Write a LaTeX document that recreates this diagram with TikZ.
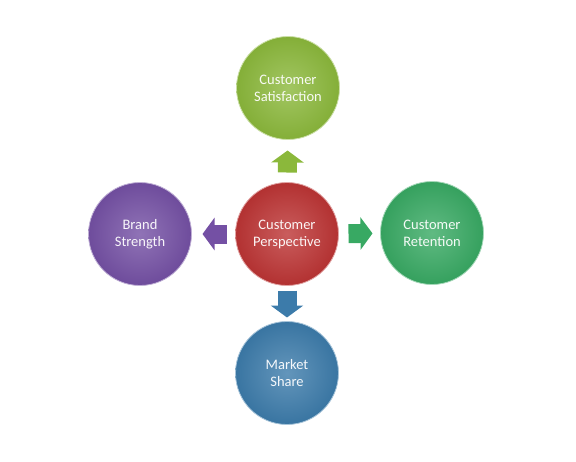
\documentclass[tikz,border=0pt]{standalone}
\usepackage{fontspec}
\setmainfont{Carlito}
\usetikzlibrary{arrows.meta}

\definecolor{persred}{HTML}{BC3434}
\definecolor{satgreen}{HTML}{8BB83B}
\definecolor{retgreen}{HTML}{38A963}
\definecolor{brandpurple}{HTML}{7450A4}
\definecolor{shareblue}{HTML}{3C7BAA}

\tikzset{
  ball/.style={circle, minimum size=103pt, inner sep=0pt, outer sep=0pt,
    draw=#1!45!white, line width=0.8pt, shade, inner color=#1!80!white, outer color=#1!95!black,
    text=white!95!#1, align=center, font=\fontsize{14.5}{17}\selectfont},
  blockarrow/.style={draw=#1, line width=19pt, -{Triangle[width=32pt,length=12pt]}},
}

\begin{document}
\begin{tikzpicture}[x=1pt, y=-1pt]
    % page area
    \useasboundingbox (0,0) rectangle (576,461);

    % the five balls
    \node[ball=persred] (persp) at (287,234) {Customer\\Perspective};
    \node[ball=satgreen] (satis) at (288,88) {Customer\\Satisfaction};
    \node[ball=retgreen] (reten) at (432,233) {Customer\\Retention};
    \node[ball=brandpurple] (brand) at (140,234) {Brand\\Strength};
    \node[ball=shareblue] (share) at (287,373) {Market\\Share};

    % block arrows out of the centre
    \draw[blockarrow=satgreen, shorten <=10pt, shorten >=11pt] (persp) -- (satis);
    \draw[blockarrow=retgreen, shorten <=10pt, shorten >=8pt] (persp) -- (reten);
    \draw[blockarrow=brandpurple, shorten <=9pt, shorten >=11pt] (persp) -- (brand);
    \draw[blockarrow=shareblue, shorten <=5pt, shorten >=4pt] (persp) -- (share);
\end{tikzpicture}
\end{document}
